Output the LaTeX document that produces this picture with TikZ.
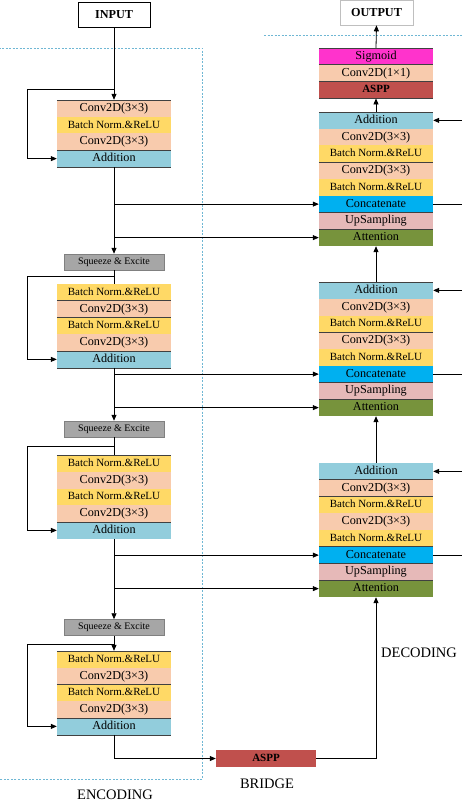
\documentclass[tikz,border=0pt]{standalone}
\usepackage{fontspec}
\setmainfont{Liberation Serif}
\usetikzlibrary{arrows.meta}
\definecolor{cconv}{HTML}{F8CBAD}
\definecolor{cbn}{HTML}{FFD966}
\definecolor{cadd}{HTML}{92CDDC}
\definecolor{ccat}{HTML}{00B0F0}
\definecolor{cup}{HTML}{E6B9B8}
\definecolor{catt}{HTML}{77933C}
\definecolor{csig}{HTML}{FF33CC}
\definecolor{caspp}{HTML}{C0504D}
\definecolor{cse}{HTML}{A6A6A6}
\definecolor{cdash}{HTML}{6FB7D4}
\tikzset{
  rowbox/.style={rectangle, minimum width=114pt, minimum height=16.75pt, inner sep=0pt,
    font=\fontsize{12.2}{12}\selectfont, text height=8.5pt, text depth=2.5pt},
  conv/.style={rowbox, fill=cconv},
  bn/.style={rowbox, fill=cbn, font=\fontsize{11}{12}\selectfont},
  add/.style={rowbox, fill=cadd},
  cat/.style={rowbox, fill=ccat},
  up/.style={rowbox, fill=cup},
  att/.style={rowbox, fill=catt},
  sig/.style={rowbox, fill=csig},
  aspp/.style={rowbox, fill=caspp, font=\fontsize{11}{12}\selectfont\bfseries},
  sebox/.style={rectangle, fill=cse, draw=black!50, line width=0.5pt, minimum width=100pt,
    minimum height=16pt, inner sep=0pt, font=\fontsize{10}{10}\selectfont},
  iobox/.style={rectangle, fill=white, line width=0.6pt, minimum width=72pt, minimum height=25pt,
    inner sep=0pt, font=\fontsize{12.2}{12}\selectfont\bfseries},
  lbl/.style={inner sep=0pt, font=\fontsize{14.5}{15}\selectfont},
  arr/.style={draw, line width=0.8pt, -{Triangle[length=6pt,width=5pt]}},
  ln/.style={draw, line width=0.8pt},
  sepl/.style={draw=black!75, line width=0.5pt},
  area/.style={draw=cdash, line width=0.5pt, dash pattern=on 2pt off 1.5pt},
}
\newcommand\myrow[5]{\node[#4] (#1) at (#2,{#3+8.375}) {#5};}
\newcommand\mysep[1]{\draw[sepl] (#1.north west) -- (#1.north east);}
\newcommand\mysepb[1]{\draw[sepl] (#1.south west) -- (#1.south east);}
\newcommand\decblock[2]{%
  \myrow{#1a}{376}{#2}{add}{Addition}
  \myrow{#1b}{376}{#2+16.75}{conv}{Conv2D(3×3)}
  \myrow{#1c}{376}{#2+33.5}{bn}{Batch Norm.\&ReLU}
  \myrow{#1d}{376}{#2+50.25}{conv}{Conv2D(3×3)}
  \myrow{#1e}{376}{#2+67}{bn}{Batch Norm.\&ReLU}
  \myrow{#1f}{376}{#2+83.75}{cat}{Concatenate}
  \myrow{#1g}{376}{#2+100.5}{up}{UpSampling}
  \myrow{#1h}{376}{#2+117.25}{att}{Attention}
}
\newcommand\encblock[2]{%
  \myrow{#1a}{114}{#2}{bn}{Batch Norm.\&ReLU}
  \myrow{#1b}{114}{#2+16.75}{conv}{Conv2D(3×3)}
  \myrow{#1c}{114}{#2+33.5}{bn}{Batch Norm.\&ReLU}
  \myrow{#1d}{114}{#2+50.25}{conv}{Conv2D(3×3)}
  \myrow{#1e}{114}{#2+67}{add}{Addition}
}
\begin{document}
\begin{tikzpicture}[x=1pt,y=-1pt]
\useasboundingbox (0,0) rectangle (462,802);
\fill[white] (0,0) rectangle (462,802);
\coordinate (edge) at (462,0);

% regions
\draw[area] (-5,48) -- (202,48) -- (202,779) -- (-5,779);
\draw[area] (264,35) -- (470,35);

% input / output
\node[iobox, draw=black] (input) at (114,14.5) {INPUT};
\node[iobox, draw=black!25, minimum width=73pt] (output) at (376.5,12.5) {OUTPUT};

% encoder block 1
\myrow{e1a}{114}{100}{conv}{Conv2D(3×3)}
\myrow{e1b}{114}{116.75}{bn}{Batch Norm.\&ReLU}
\myrow{e1c}{114}{133.5}{conv}{Conv2D(3×3)}
\myrow{e1d}{114}{150.25}{add}{Addition}
\mysep{e1a}\mysep{e1d}\mysepb{e1d}

\node[sebox] (se1) at (114,262) {Squeeze \& Excite};
\encblock{e2}{284}
\mysep{e2b}\mysep{e2c}\mysep{e2e}\mysepb{e2e}

\node[sebox] (se2) at (114,429) {Squeeze \& Excite};
\encblock{e3}{455}
\mysep{e3a}\mysep{e3e}

\node[sebox] (se3) at (114,627.5) {Squeeze \& Excite};
\encblock{e4}{651}
\mysep{e4a}\mysep{e4c}\mysep{e4e}\mysepb{e4e}

% bridge
\node[aspp, minimum width=100pt, minimum height=17pt] (bridge) at (266,758.5) {ASPP};

% decoder
\myrow{t1}{376}{48}{sig}{Sigmoid}
\myrow{t2}{376}{64.75}{conv}{Conv2D(1×1)}
\myrow{t3}{376}{81.5}{aspp}{ASPP}
\mysep{t1}\mysep{t2}\mysep{t3}\mysepb{t3}

\decblock{d1}{112}
\mysep{d1a}\mysep{d1d}\mysep{d1g}\mysep{d1h}
\decblock{d2}{282}
\mysep{d2a}\mysep{d2d}\mysep{d2g}\mysep{d2h}
\decblock{d3}{463}
\mysep{d3b}\mysep{d3c}\mysep{d3f}\mysep{d3g}\mysep{d3h}

% labels
\node[lbl, anchor=base] (enclbl) at (115,799) {ENCODING};
\node[lbl, anchor=base] (brglbl) at (267,788) {BRIDGE};
\node[lbl, anchor=base west] (declbl) at (381,657) {DECODING};

% encoder connectors
\draw[arr] (input.south) -- (e1a.north);
\coordinate (l1) at (114,89);
\draw[arr] (l1) -- ++(-87,0) |- (e1d.west);
\draw[arr] (e1d.south) -- (se1.north);
\draw[ln] (se1.south) -- (e2a.north);
\coordinate (l2) at (114,276);
\draw[arr] (l2) -- ++(-87,0) |- (e2e.west);
\draw[arr] (e2e.south) -- (se2.north);
\draw[ln] (se2.south) -- (e3a.north);
\coordinate (l3) at (114,446);
\draw[arr] (l3) -- ++(-87,0) |- (e3e.west);
\draw[arr] (e3e.south) -- (se3.north);
\draw[arr] (se3.south) -- (e4a.north);
\coordinate (l4) at (114,644);
\draw[arr] (l4) -- ++(-87,0) |- (e4e.west);
\draw[arr] (e4e.south) |- (bridge.west);

% skip connections
\draw[arr] (d1f.west -| e1d.south) -- (d1f.west);
\draw[arr] (d1h.west -| e1d.south) -- (d1h.west);
\draw[arr] (d2f.west -| e2e.south) -- (d2f.west);
\draw[arr] (d2h.west -| e2e.south) -- (d2h.west);
\draw[arr] (d3f.west -| e3e.south) -- (d3f.west);
\draw[arr] (d3h.west -| e3e.south) -- (d3h.west);

% decoder connectors
\draw[arr] (bridge.east) -| (d3h.south);
\draw[arr] (d3a.north) -- (d2h.south);
\draw[arr] (d2a.north) -- (d1h.south);
\draw[arr] (d1a.north) -- (t3.south);
\draw[arr] (t1.north) -- (output.south);

% right side
\draw[arr] (d1a.east -| edge) -- (d1a.east);
\draw[ln] (d1f.east) -- (d1f.east -| edge);
\draw[arr] (d2a.east -| edge) -- (d2a.east);
\draw[ln] (d2f.east) -- (d2f.east -| edge);
\draw[arr] (d3a.east -| edge) -- (d3a.east);
\draw[ln] (d3f.east) -- (d3f.east -| edge);
\end{tikzpicture}
\end{document}
